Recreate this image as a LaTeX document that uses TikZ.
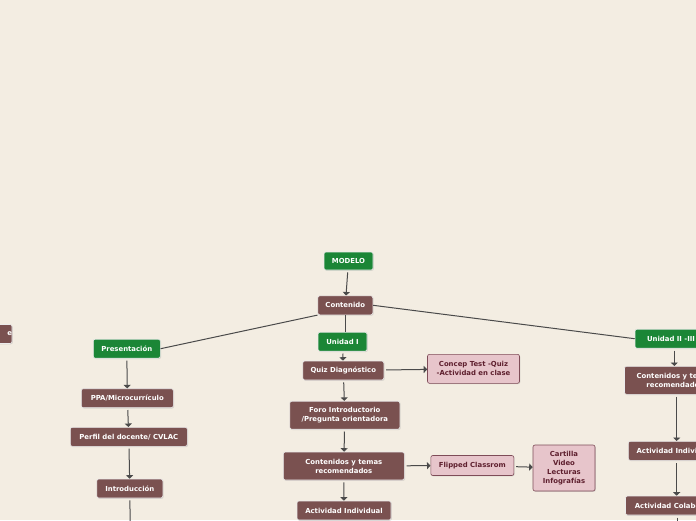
\documentclass[tikz,border=0pt]{standalone}
\usepackage{fontspec}
\setmainfont{DejaVu Sans}
\usetikzlibrary{arrows.meta,shadows}
\definecolor{fondo}{HTML}{F3EDE2}
\definecolor{cafe}{HTML}{7A5150}
\definecolor{verde}{HTML}{1B8636}
\definecolor{rosa}{HTML}{E7C5CB}
\definecolor{vino}{HTML}{5E1F2E}
\definecolor{linea}{HTML}{4A4A4A}
\tikzset{
  caja/.style={rectangle, rounded corners=2pt, draw=white!85!gray, line width=.6pt,
    fill=cafe, text=white, font=\fontsize{6.9}{9}\selectfont\bfseries, align=center,
    inner sep=0pt, minimum height=19pt, drop shadow={shadow xshift=.8pt, shadow yshift=-.8pt, opacity=.25}},
  cajaverde/.style={caja, fill=verde},
  cajarosa/.style={caja, fill=rosa, draw=vino!80, text=vino},
  flecha/.style={draw=linea, line width=1pt, shorten <=2pt, -{Triangle[width=7pt,length=3.5pt]}},
  enlace/.style={draw=linea, line width=1pt}
}
\begin{document}
\begin{tikzpicture}[x=1pt,y=-1pt]
  \path[use as bounding box, fill=fondo] (0,0) rectangle (696,520);
  \clip (0,0) rectangle (696,520);
  % centro
  \node[cajaverde, minimum width=49pt, minimum height=18pt] (modelo) at (348.5,261) {MODELO};
  \node[caja, minimum width=55pt] (cont) at (345.3,305.3) {Contenido};
  \node[cajaverde, minimum width=49pt] (u1) at (342.5,341.7) {Unidad I};
  \node[caja, minimum width=81pt] (quiz) at (343.3,370.5) {Quiz Diagnóstico};
  \node[cajarosa, minimum width=92pt, minimum height=29pt] (concep) at (473.5,368.8) {Concep Test -Quiz\\-Actividad en clase};
  \node[caja, minimum width=110pt, minimum height=28pt] (foro) at (344.8,415.2) {Foro Introductorio\\/Pregunta orientadora};
  \node[caja, minimum width=121pt, minimum height=28pt] (temas) at (343.8,466) {Contenidos y temas\\recomendados};
  \node[cajarosa, minimum width=83pt, minimum height=20pt] (flipped) at (472.3,465.5) {Flipped Classrom};
  \node[cajarosa, minimum width=62pt, minimum height=46pt] (cartilla) at (564,468) {Cartilla\\Video\\Lecturas\\Infografías};
  \node[caja, minimum width=94pt] (indiv) at (344,510.5) {Actividad Individual};
  % izquierda
  \node[caja, anchor=east, text width=40pt, align=right, minimum height=19pt] (otro) at (12.3,334) {e};
  \node[cajaverde, minimum width=67pt] (pres) at (126.8,348.7) {Presentación};
  \node[caja, minimum width=92pt] (ppa) at (127.3,398.2) {PPA/Microcurrículo};
  \node[caja, minimum width=117pt] (perfil) at (128.8,436.8) {Perfil del docente/ CVLAC};
  \node[caja, minimum width=66pt] (intro) at (129.8,488.5) {Introducción};
  \coordinate (introfin) at (130.3,540);
  % derecha
  \node[cajaverde, minimum width=72pt] (u2) at (671,338.7) {Unidad II -III};
  \node[caja, minimum width=101pt, minimum height=28pt] (temas2) at (675,380.3) {Contenidos y temas\\recomendados};
  \node[caja, minimum width=94pt] (indiv2) at (675.3,450.8) {Actividad Individual};
  \node[caja, minimum width=107pt] (colab) at (679,505.5) {Actividad Colaborativa};
  \coordinate (u2pie) at (674.3,348.5);
  \coordinate (temas2pie) at (676.7,394.5);
  \coordinate (indiv2pie) at (676.7,461);
  \coordinate (colabpie) at (677.7,515.5);
  \coordinate (colabfin) at (677.7,545);
  % conexiones
  \draw[flecha] (modelo) -- (cont);
  \draw[enlace] (cont.south west) -- (pres.east);
  \draw[enlace] (cont.south) -- (cont.south |- u1.north);
  \draw[enlace] (cont.east) -- (u2.west);
  \draw[flecha] (u1) -- (quiz);
  \draw[flecha] (quiz) -- (concep);
  \draw[flecha] (quiz) -- (foro);
  \draw[flecha] (foro) -- (temas);
  \draw[flecha] (temas) -- (flipped);
  \draw[flecha] (flipped) -- (cartilla);
  \draw[flecha] (temas) -- (indiv);
  \draw[flecha] (pres) -- (ppa);
  \draw[flecha] (ppa) -- (perfil);
  \draw[flecha] (perfil) -- (intro);
  \draw[flecha] (intro) -- (introfin);
  \draw[flecha] (u2pie) -- (u2pie |- temas2.north);
  \draw[flecha] (temas2pie) -- (temas2pie |- indiv2.north);
  \draw[flecha] (indiv2pie) -- (indiv2pie |- colab.north);
  \draw[flecha] (colabpie) -- (colabfin);
\end{tikzpicture}
\end{document}
